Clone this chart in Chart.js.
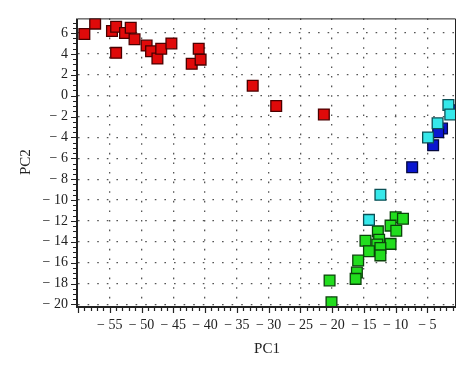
<!DOCTYPE html>
<html><head><meta charset="utf-8">
<script src="https://cdn.jsdelivr.net/npm/chart.js@4/dist/chart.umd.min.js"></script>
<style>html,body{margin:0;padding:0;background:#fff}#wrap{width:474px;height:374px}</style>
</head><body><div id="wrap"><canvas id="c"></canvas></div>
<script>
const redPts = [[-59.0,5.9],[-57.3,6.9],[-54.65,6.2],[-54.0,6.6],[-54.0,4.1],[-52.6,6.0],[-51.7,6.5],[-51.1,5.4],[-49.2,4.8],[-48.5,4.25],[-47.5,3.55],[-46.9,4.5],[-45.3,5.0],[-42.1,3.05],[-41.0,4.5],[-40.7,3.45],[-32.5,0.95],[-28.8,-1.0],[-21.3,-1.8]];
const greenPts = [[-10.0,-11.65],[-8.85,-11.8],[-10.8,-12.45],[-9.9,-12.95],[-12.8,-13.0],[-14.75,-13.9],[-12.6,-13.8],[-12.9,-14.25],[-10.8,-14.2],[-14.2,-14.9],[-12.4,-14.6],[-12.4,-15.3],[-15.9,-15.8],[-16.1,-16.95],[-16.3,-17.55],[-20.4,-17.7],[-20.1,-19.8]];
const cyanPts = [[-1.7,-0.9],[-1.4,-1.8],[-3.4,-2.65],[-4.9,-4.0],[-12.4,-9.5],[-14.2,-11.9]];
const bluePts = [[-1.1,-1.4],[-2.7,-3.15],[-3.3,-3.5],[-4.1,-4.75],[-7.4,-6.85]];
const xTicks = [-55,-50,-45,-40,-35,-30,-25,-20,-15,-10,-5];
const yTicks = [6,4,2,0,-2,-4,-6,-8,-10,-12,-14,-16,-18,-20];
const xRange = [-60,-0.5];
const yRange = [-20.15,7.4];

const toXY = a => a.map(p => ({x:p[0], y:p[1]}));
const fmt = v => v < 0 ? '\u2212 ' + Math.abs(v) : String(v);
const FONT = "'Liberation Serif', 'DejaVu Serif', serif";

const frame = {
  id:'frame',
  afterDatasetsDraw(chart){
    const {ctx, chartArea:a, scales:{x,y}} = chart;
    ctx.save();
    ctx.strokeStyle = '#222';
    ctx.lineWidth = 1;
    ctx.beginPath();
    ctx.moveTo(a.left, a.top+0.5); ctx.lineTo(a.right-0.5, a.top+0.5); ctx.lineTo(a.right-0.5, a.bottom);
    ctx.stroke();
    ctx.lineWidth = 2;
    ctx.beginPath();
    ctx.moveTo(a.left-1, a.top); ctx.lineTo(a.left-1, a.bottom+1); ctx.lineTo(a.right, a.bottom+1);
    ctx.stroke();
    ctx.lineWidth = 1.2;
    ctx.beginPath();
    for (let v = -60; v <= -1; v += 1) {
      const px = Math.round(x.getPixelForValue(v)) + 0.5;
      const len = (v % 5 === 0) ? 6 : 4;
      ctx.moveTo(px, a.bottom+1); ctx.lineTo(px, a.bottom+1+len);
    }
    for (let v = -20; v <= 7; v += 0.5) {
      const py = Math.round(y.getPixelForValue(v)) + 0.5;
      const len = (Math.abs(v) % 2 === 0) ? 6 : 4;
      ctx.moveTo(a.left-1, py); ctx.lineTo(a.left-1-len, py);
    }
    ctx.stroke();
    ctx.restore();
  }
};

const ds = (label, pts, fill, border) => ({
  label, data: toXY(pts), backgroundColor: fill, borderColor: border,
  pointStyle:'rect', pointRadius:7.6, pointHoverRadius:7.6, borderWidth:1.3
});

new Chart(document.getElementById('c'), {
  type:'scatter',
  data:{datasets:[
    ds('cyan', cyanPts, '#35e8ea', '#0b4f55'),
    ds('blue', bluePts, '#0a16d0', '#04083e'),
    ds('green', greenPts, '#22dd1e', '#0b430b'),
    ds('red', redPts, '#e00a0a', '#4a0000')
  ]},
  options:{
    responsive:true, maintainAspectRatio:false, animation:false,
    layout:{padding:{top:16, right:18, left:0, bottom:0}},
    plugins:{legend:{display:false}, tooltip:{enabled:false}},
    scales:{
      x:{
        type:'linear', min:xRange[0], max:xRange[1],
        afterBuildTicks: s => { s.ticks = xTicks.map(v => ({value:v})); },
        afterFit: s => { s.height = 68; },
        border:{display:false, dash:[1.6,8]},
        grid:{color:'#555', lineWidth:1.3, drawTicks:false},
        ticks:{callback:v => fmt(v), color:'#222', font:{family:FONT, size:14}, padding:11, maxRotation:0, autoSkip:false},
        title:{display:true, text:'PC1', color:'#222', font:{family:FONT, size:15}, padding:{top:4, bottom:16}}
      },
      y:{
        type:'linear', min:yRange[0], max:yRange[1],
        afterBuildTicks: s => { s.ticks = yTicks.map(v => ({value:v})); },
        afterFit: s => { s.width = 78; },
        border:{display:false, dash:[1.6,8]},
        grid:{color:'#555', lineWidth:1.3, drawTicks:false},
        ticks:{callback:v => fmt(v), color:'#222', font:{family:FONT, size:14}, padding:10, autoSkip:false},
        title:{display:true, text:'PC2', color:'#222', font:{family:FONT, size:15}, padding:{top:17, bottom:0}}
      }
    }
  },
  plugins:[frame]
});
</script></body></html>
